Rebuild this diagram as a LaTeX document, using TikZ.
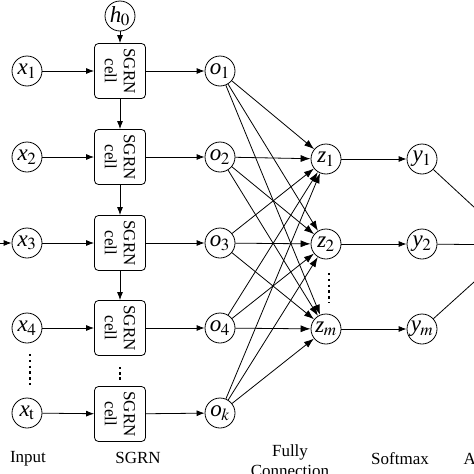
\documentclass[tikz,border=0pt]{standalone}
\usepackage{mathptmx}
\usepackage{fontspec}
\setmainfont{Liberation Serif}
\usetikzlibrary{arrows.meta}

\newcommand{\unitvar}[2]{\textit{#1}\kern-0.5pt$_{\mathrm{#2}}$}

\begin{document}
\begin{tikzpicture}[
    x=1pt,
    y=-1pt,
    unit/.style={draw,circle,minimum size=30pt,inner sep=0pt,line width=0.8pt,font=\fontsize{23}{25}\selectfont},
    cell/.style={draw,rotate=-90,rounded corners=4pt,minimum width=55pt,minimum height=51pt,inner sep=0pt,line width=0.8pt,align=center,font=\fontsize{17}{19}\selectfont},
    caption/.style={font=\fontsize{17}{20}\selectfont,align=center},
    flow/.style={-{Latex[length=8pt,width=6pt]},line width=0.8pt},
    dense/.style={-{Latex[length=10pt,width=7pt]},line width=0.8pt},
    plain/.style={line width=0.8pt},
    ellipsis/.style={line width=2.4pt,dash pattern=on 2.4pt off 3.4pt}
]
\useasboundingbox (0,0) rectangle (474,474);
\clip (0,0) rectangle (474,474);

% Input sequence.
\node[unit] (x1) at (27,71) {\unitvar{x}{1}};
\node[unit] (x2) at (27,157) {\unitvar{x}{2}};
\node[unit] (x3) at (27,243) {\unitvar{x}{3}};
\node[unit] (x4) at (27,328) {\unitvar{x}{4}};
\node[unit] (xt) at (27,413) {\unitvar{x}{t}};
\draw[ellipsis] (30,354) -- (30,386);

% Recurrent cells.
\node[unit] (h0) at (120,16) {\unitvar{h}{0}};
\node[cell] (c1) at (120,71) {SGRN\\cell};
\node[cell] (c2) at (120,157) {SGRN\\cell};
\node[cell] (c3) at (120,243) {SGRN\\cell};
\node[cell] (c4) at (120,328) {SGRN\\cell};
\node[cell] (ck) at (120,414) {SGRN\\cell};
\draw[line width=2.4pt,dash pattern=on 2.4pt off 2.8pt] (120,367) -- (120,382);

% Cell outputs.
\node[unit] (o1) at (220,71) {\unitvar{o}{1}};
\node[unit] (o2) at (220,157) {\unitvar{o}{2}};
\node[unit] (o3) at (220,243) {\unitvar{o}{3}};
\node[unit] (o4) at (220,328) {\unitvar{o}{4}};
\node[unit] (ok) at (220,413) {\unitvar{o}{\mathit{k}}};

% Fully connected and softmax units.
\node[unit] (z1) at (326,159) {\unitvar{z}{1}};
\node[unit] (z2) at (326,244) {\unitvar{z}{2}};
\node[unit] (zm) at (326,329) {\unitvar{z}{\mathit{m}}};
\draw[ellipsis] (329,273) -- (329,303);
\node[unit] (y1) at (422,159) {\unitvar{y}{1}};
\node[unit] (y2) at (422,244) {\unitvar{y}{2}};
\node[unit] (ym) at (422,329) {\unitvar{y}{\mathit{m}}};

% Off-page ends.
\coordinate (in3) at (-8,243);
\coordinate (att) at (515,245);

% Sequence flow.
\draw[flow] (in3) -- (x3);
\draw[flow] (h0) -- (c1);
\draw[flow] (c1) -- (c2);
\draw[flow] (c2) -- (c3);
\draw[flow] (c3) -- (c4);
\draw[flow] (x1) -- (c1);
\draw[flow] (x2) -- (c2);
\draw[flow] (x3) -- (c3);
\draw[flow] (x4) -- (c4);
\draw[flow] (xt) -- (ck);
\draw[flow] (c1) -- (o1);
\draw[flow] (c2) -- (o2);
\draw[flow] (c3) -- (o3);
\draw[flow] (c4) -- (o4);
\draw[flow] (ck) -- (ok);

% Full connection.
\foreach \src in {o1,o2,o3,o4,ok} {
    \foreach \dst in {z1,z2,zm} {
        \draw[dense] (\src) -- (\dst);
    }
}

\draw[flow] (z1) -- (y1);
\draw[flow] (z2) -- (y2);
\draw[flow] (zm) -- (ym);
\draw[plain] (y1) -- (att);
\draw[plain] (y2) -- (att);
\draw[plain] (ym) -- (att);

% Layer captions.
\node[caption] (capin) at (28,459) {Input};
\node[caption] (capcell) at (138,458) {SGRN};
\node[caption] (capfc) at (290,461) {Fully\\Connection};
\node[caption] (capsoft) at (400,459) {Softmax};
\node[caption,anchor=west] (capatt) at (460,459) {A};

\end{tikzpicture}
\end{document}
